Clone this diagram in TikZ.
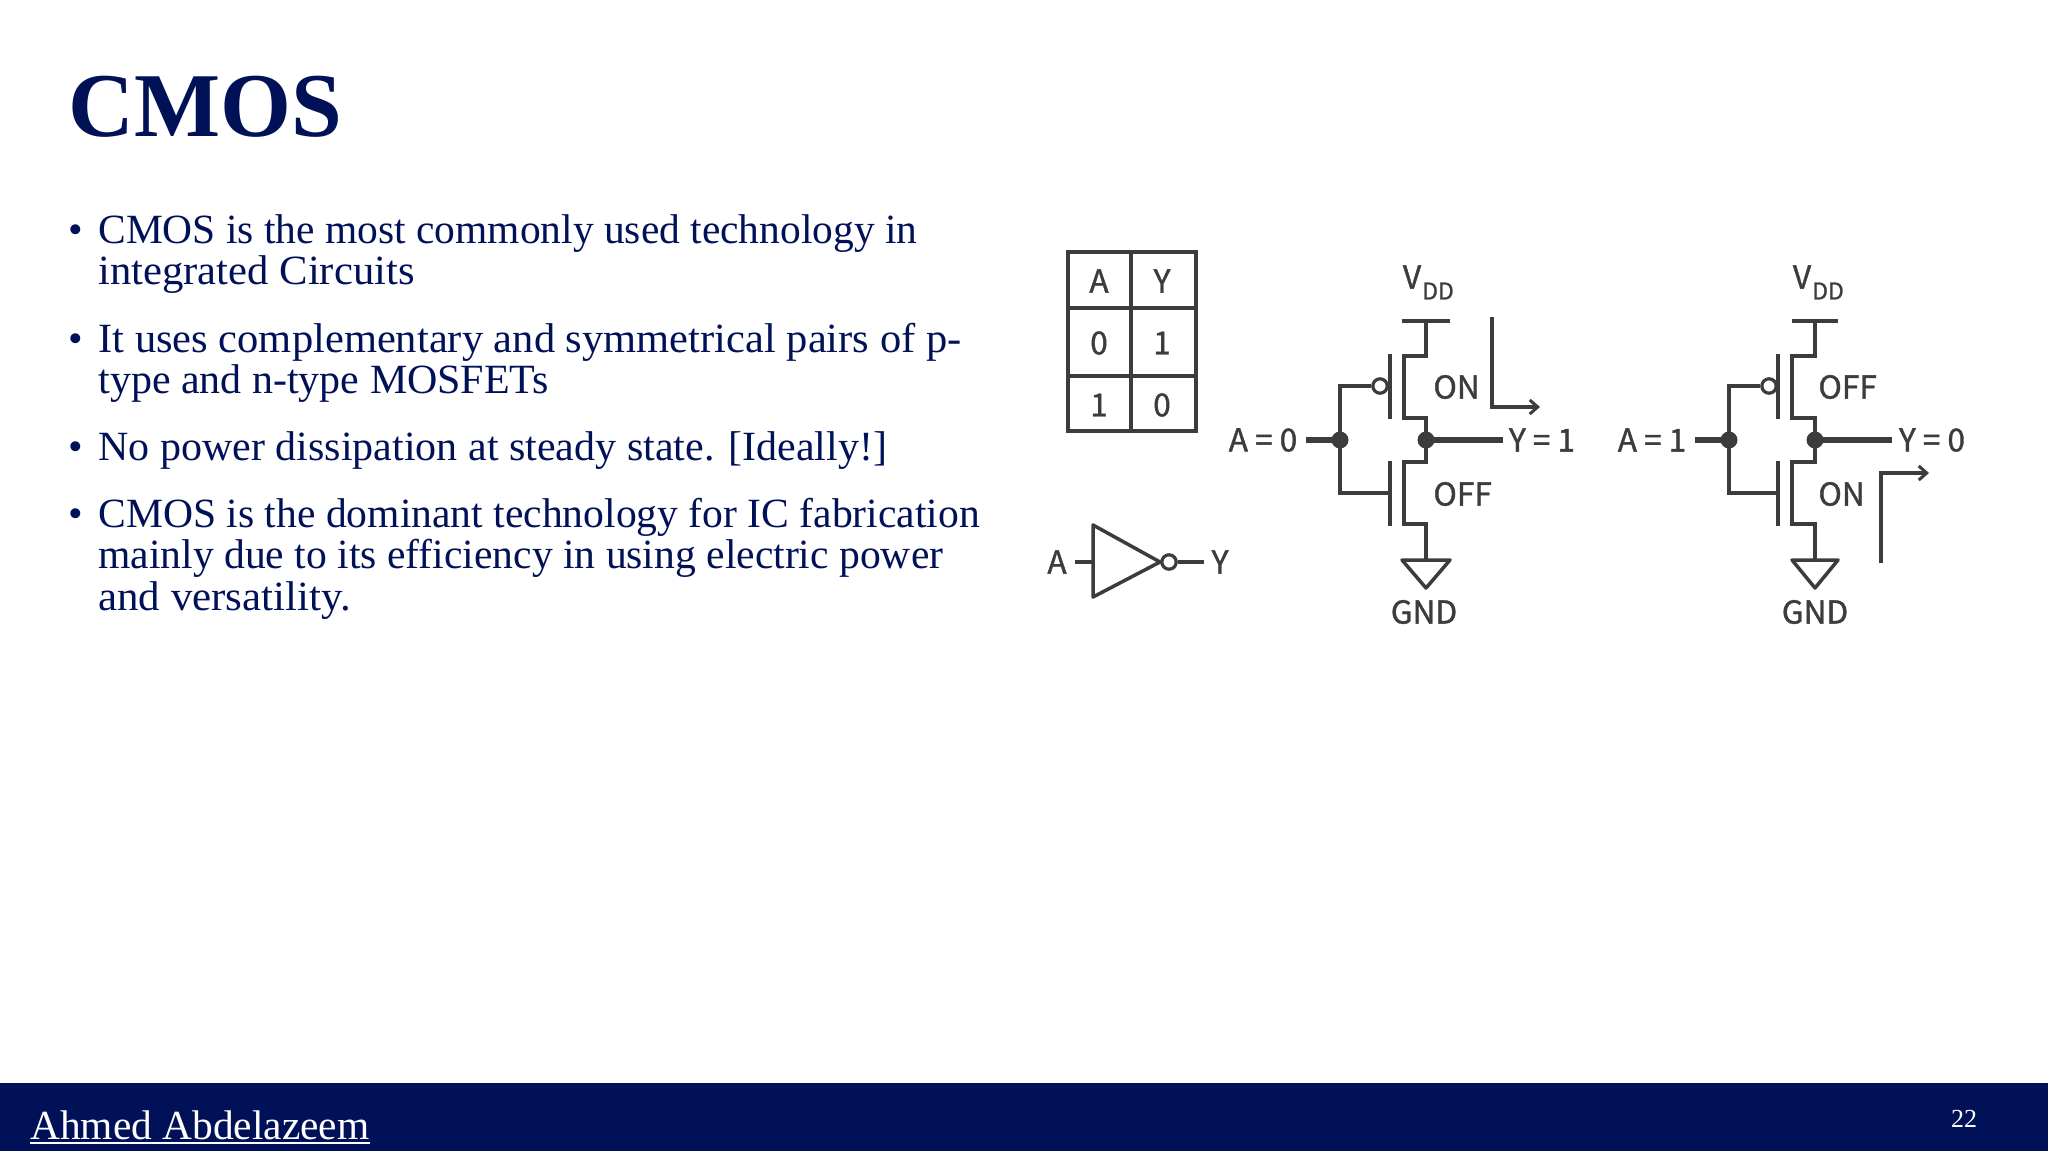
\documentclass[tikz,border=0pt]{standalone}
\usepackage{fontspec}
\setmainfont{Liberation Serif}
\newfontfamily\diagfont[FakeBold=1.2]{Noto Sans CJK JP}
\usetikzlibrary{arrows.meta}
\definecolor{navy}{HTML}{001158}
\definecolor{ink}{HTML}{3C3C3E}
\newcommand{\bodyline}[4]{\node[bodytxt] (#1) at (98,#2) {\scalebox{#3}[1]{#4}};}
\newcommand{\bulletat}[2]{\node[bodytxt,anchor=base] (#1) at (76,#2) {•};}
\newcommand{\cmoscell}[9]{%
 % #1 prefix, #2 stem, #3 drain rail, #4 gate bar, #5 bubble, #6 gate wire, #7 in start, #8 out end, #9 bar half
 \coordinate (#1bl) at (#2-#9,321); \coordinate (#1br) at (#2+#9,321); \coordinate (#1top) at (#2,321);
 \coordinate (#1out) at (#2,440); \coordinate (#1in) at (#6,440);
 \coordinate (#1ib) at (#7,440); \coordinate (#1ob) at (#8,440);
 \draw[wire] (#1bl) -- (#1br);
 \draw[wire,line join=miter] (#1top) -- (#2,356) -- (#3,356) -- (#3,418) -- (#2,418) -- (#1out) -- (#2,462) -- (#3,462) -- (#3,524) -- (#2,524) -- (#2,560);
 \draw[wire] (#4,354) -- (#4,419);
 \draw[wire] (#4,461) -- (#4,526);
 \node[bubble] (#1bub) at (#5,386) {};
 \draw[wire,line join=miter] (#1bub) -- (#6,386) -- (#1in) -- (#6,493) -- (#4,493);
 \draw[wire,line width=2.8pt] (#1ib) -- (#1in);
 \draw[wire,line width=2.8pt] (#1out) -- (#1ob);
 \fill[ink] (#1in) circle (8.5);
 \fill[ink] (#1out) circle (8.5);
 \draw[wire,line join=round] (#2-#9,560) -- (#2+#9,560) -- (#2,588) -- cycle;
}
\tikzset{
 x=0.5pt,y=-0.5pt,
 wire/.style={draw=ink,line width=1.75pt},
 bubble/.style={circle,draw=ink,fill=white,line width=1.6pt,minimum size=7.2pt,inner sep=0pt},
 bodytxt/.style={anchor=base west,inner sep=0pt,text=navy,font=\fontsize{20.8}{25}\selectfont},
 lab/.style={inner sep=0pt,text=ink,font=\diagfont\fontsize{15.8}{18}\selectfont},
 sub/.style={inner sep=0pt,text=ink,font=\diagfont\fontsize{11.5}{14}\selectfont},
 flow/.style={draw=ink,line width=1.6pt,-{Straight Barb[length=4pt,width=7pt,line width=1.5pt]}},
}
\begin{document}
\begin{tikzpicture}
\useasboundingbox (0,0) rectangle (2048,1151);
\fill[white] (0,0) rectangle (2048,1151);
\fill[navy] (0,1083) rectangle (2048,1151);
\node[anchor=base west,inner sep=0pt,text=navy,font=\fontsize{45.6}{50}\selectfont\bfseries] (title) at (68,136) {CMOS};
\bulletat{b1}{243}\bodyline{l1}{243}{0.997}{CMOS is the most commonly used technology in}
\bodyline{l2}{284}{1.025}{integrated Circuits}
\bulletat{b2}{352}\bodyline{l3}{352}{1.022}{It uses complementary and symmetrical pairs of p-}
\bodyline{l4}{393}{1.009}{type and n-type MOSFETs}
\bulletat{b3}{460}\bodyline{l5}{460}{1.01}{No power dissipation at steady state. [Ideally!]}
\bulletat{b4}{527}\bodyline{l6}{527}{1}{CMOS is the dominant technology for IC fabrication}
\bodyline{l7}{568}{1}{mainly due to its efficiency in using electric power}
\bodyline{l8}{610}{1.032}{and versatility.}
\node[anchor=base west,inner sep=0pt,text=white,font=\fontsize{20.7}{25}\selectfont] (foot) at (30,1139) {Ahmed Abdelazeem};
\draw[white,line width=0.8pt] (foot.base west)+(0,4) -- ([yshift=-2pt]foot.base east);
\node[inner sep=0pt,text=white,font=\fontsize{13}{15}\selectfont] (page) at (1964,1119) {22};
% truth table
\draw[wire,line join=miter] (1068,252) rectangle (1196,431);
\draw[wire] (1131,252) -- (1131,431);
\draw[wire] (1068,308) -- (1196,308);
\draw[wire] (1068,376) -- (1196,376);
\node[lab] (ta) at (1099,281) {A}; \node[lab] (ty) at (1162,281) {Y};
\node[lab] (t0) at (1099,343) {0}; \node[lab] (t1) at (1162,343) {1};
\node[lab] (u1) at (1099,405) {1}; \node[lab] (u0) at (1162,405) {0};
% inverter symbol
\draw[wire,line join=round] (1093,525) -- (1093,597) -- (1160,562) -- cycle;
\node[bubble] (ib) at (1169,562) {};
\node[lab] (ia) at (1057,562) {A}; \node[lab] (iy) at (1220,562) {Y};
\coordinate (iin) at (1093,562); \coordinate (iis) at (1075,562); \coordinate (ioe) at (1204,562);
\draw[wire] (iis) -- (iin);
\draw[wire] (ib) -- (ioe);
% circuits
\cmoscell{c}{1426}{1404}{1390}{1380}{1340}{1306}{1503}{24}
\cmoscell{d}{1815}{1792}{1778}{1769}{1729}{1695}{1892}{23}
\node[lab] (ca) at (1263,440) {A = 0};
\node[lab] (cy) at (1542,440) {Y = 1};
\node[lab,anchor=west] (con) at (1433,387) {ON};
\node[lab,anchor=west] (cof) at (1433,494) {OFF};
\node[lab] (cv) at (1412,277) {V};
\node[sub] (cd) at (1438,291) {DD};
\node[lab] (cg) at (1424,612) {GND};
\coordinate (ca1) at (1492,317); \coordinate (ca2) at (1492,407); \coordinate (ca3) at (1540,407);
\draw[flow,line join=miter] (ca1) -- (ca2) -- (ca3);
\node[lab] (da) at (1652,440) {A = 1};
\node[lab] (dy) at (1932,440) {Y = 0};
\node[lab,anchor=west] (dof) at (1818,387) {OFF};
\node[lab,anchor=west] (don) at (1818,494) {ON};
\node[lab] (dv) at (1802,277) {V};
\node[sub] (dd) at (1828,291) {DD};
\node[lab] (dg) at (1815,612) {GND};
\coordinate (da1) at (1881,563); \coordinate (da2) at (1881,473); \coordinate (da3) at (1929,473);
\draw[flow,line join=miter] (da1) -- (da2) -- (da3);
\end{tikzpicture}
\end{document}
